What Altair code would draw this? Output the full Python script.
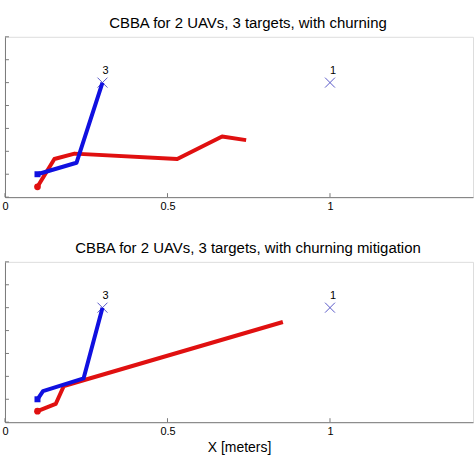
import altair as alt
import pandas as pd

# Target positions (meters) and their labels
target_x = [0.3, 1.0]
target_y = [1.0, 1.0]
target_labels = ["3", "1"]

# Panel 1: paths with churning
churn_red_x = [0.1, 0.152, 0.214, 0.53, 0.668, 0.742]
churn_red_y = [0.09, 0.333, 0.38, 0.333, 0.53, 0.498]
churn_blue_x = [0.1, 0.22, 0.3]
churn_blue_y = [0.2, 0.3, 1.0]

# Panel 2: paths with churning mitigation
mitig_red_x = [0.1, 0.156, 0.181, 0.855]
mitig_red_y = [0.096, 0.159, 0.316, 0.875]
mitig_blue_x = [0.1, 0.117, 0.242, 0.3]
mitig_blue_y = [0.2, 0.272, 0.383, 1.0]

# Axis tick values
x_ticks = [0, 0.5, 1.0]
y_ticks = [0, 0.2, 0.4, 0.6, 0.8, 1.0, 1.2, 1.4]

FONT = "Liberation Sans"
AXIS_COLOR = "#7a7a7a"
RED = "#e01010"
BLUE = "#1010e0"
W, H = 470, 161


def panel(title, rx, ry, bx, by, xtitle):
    red = pd.DataFrame({"x": rx, "y": ry, "i": range(len(rx))})
    blue = pd.DataFrame({"x": bx, "y": by, "i": range(len(bx))})
    targets = pd.DataFrame({"x": target_x, "y": target_y, "label": target_labels})
    yt = pd.DataFrame({"y": y_ticks})
    xt = pd.DataFrame({"x": x_ticks})

    xs = alt.Scale(domain=[0, 1.44], nice=False, zero=False)
    ys = alt.Scale(domain=[0, 1.4], nice=False, zero=False)
    x_axis = alt.Axis(values=x_ticks, format="~g", ticks=False, grid=False,
                      domainColor=AXIS_COLOR, labelFont=FONT, labelFontSize=11,
                      labelColor="black", labelPadding=3, labelFlush=False,
                      titleFont=FONT, titleFontSize=14, titleFontWeight="normal",
                      titleColor="black", titlePadding=4)
    y_axis = alt.Axis(ticks=False, labels=False, grid=False, domainColor=AXIS_COLOR)

    X = lambda: alt.X("x:Q", scale=xs, axis=x_axis, title=xtitle if xtitle else None)
    Y = lambda: alt.Y("y:Q", scale=ys, axis=y_axis, title=None)

    # inward-pointing tick marks
    ytick = alt.Chart(yt).mark_rule(color=AXIS_COLOR, strokeWidth=1).encode(
        y=Y(), x=alt.value(0), x2=alt.value(4))
    xtick = alt.Chart(xt).mark_rule(color=AXIS_COLOR, strokeWidth=1).encode(
        x=X(), y=alt.value(H), y2=alt.value(H - 4))

    tmark = alt.Chart(targets).mark_point(
        shape="M-1,-1L1,1M-1,1L1,-1", size=100, filled=False, color="#5a5ac8",
        strokeWidth=1, opacity=1).encode(x=X(), y=Y())
    tlabel = alt.Chart(targets).mark_text(
        font=FONT, fontSize=11, color="black", dx=3, dy=-12).encode(
        x=X(), y=Y(), text="label:N")

    red_line = alt.Chart(red).mark_line(color=RED, strokeWidth=4, strokeJoin="round").encode(
        x=X(), y=Y(), order="i:Q")
    blue_line = alt.Chart(blue).mark_line(color=BLUE, strokeWidth=4, strokeJoin="round").encode(
        x=X(), y=Y(), order="i:Q")
    red_start = alt.Chart(red[red.i == 0]).mark_point(
        shape="circle", filled=True, size=45, color=RED, opacity=1).encode(x=X(), y=Y())
    blue_start = alt.Chart(blue[blue.i == 0]).mark_point(
        shape="square", filled=True, size=36, color=BLUE, opacity=1).encode(x=X(), y=Y())

    return alt.layer(ytick, xtick, tmark, tlabel, red_line, blue_line, red_start, blue_start).properties(
        width=W, height=H,
        title=alt.TitleParams(title, font=FONT, fontSize=15, fontWeight="normal",
                              color="black", anchor="middle", dx=9, offset=5),
    )


top = panel("CBBA for 2 UAVs, 3 targets, with churning",
            churn_red_x, churn_red_y, churn_blue_x, churn_blue_y, None)
bottom = panel("CBBA for 2 UAVs, 3 targets, with churning mitigation",
               mitig_red_x, mitig_red_y, mitig_blue_x, mitig_blue_y, "X [meters]")

chart = alt.vconcat(top, bottom, spacing=29).properties(
    padding={"left": 1, "top": 15, "right": 0, "bottom": 0}
).configure_view(strokeWidth=0).configure(background="white")

chart.save("out.html", embed_options={"renderer": "svg", "actions": False})
